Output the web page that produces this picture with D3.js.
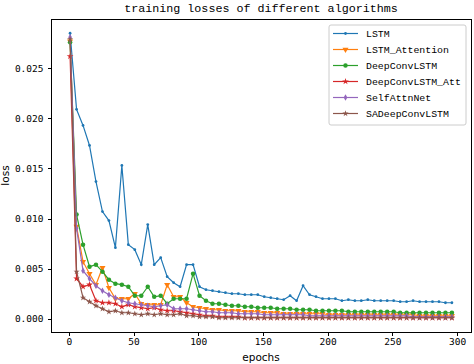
<!doctype html>
<html lang="en">
<head>
  <meta charset="utf-8">
  <title>training losses of different algorithms</title>
  <style>
body { margin: 0; background: #fff; }
.axis { font: 9.5px "DejaVu Sans Mono", monospace; }
.axis path, .axis line { fill: none; stroke: #000; shape-rendering: crispEdges; }
.series path.line { fill: none; stroke-width: 1.2; }
  </style>
</head>
<body>
  <script src="https://cdn.jsdelivr.net/npm/d3@7"></script>
  <script>
// epochs where each loss was logged
var epochs = [
  1, 6, 11, 16, 21, 26, 31, 36, 41, 46,
  51, 56, 61, 66, 71, 76, 81, 86, 91, 96,
  101, 106, 111, 116, 121, 126, 131, 136, 141, 146,
  151, 156, 161, 166, 171, 176, 181, 186, 191, 196,
  201, 206, 211, 216, 221, 226, 231, 236, 241, 246,
  251, 256, 261, 266, 271, 276, 281, 286, 291, 296
];

var names = ["LSTM", "LSTM_Attention", "DeepConvLSTM", "DeepConvLSTM_Att", "SelfAttnNet", "SADeepConvLSTM"];

var lstm = [
  0.0285, 0.0209, 0.0193, 0.0173, 0.0137, 0.0107, 0.0098, 0.0071, 0.0153, 0.0074,
  0.0069, 0.0054, 0.0094, 0.0054, 0.0061, 0.0042, 0.0036, 0.0032, 0.0054, 0.0054,
  0.0032, 0.0029, 0.0028, 0.0027, 0.0026, 0.0025, 0.0025, 0.0024, 0.0024, 0.0024,
  0.0022, 0.0021, 0.0020, 0.0019, 0.0023, 0.0018, 0.0033, 0.0024, 0.0022, 0.0020,
  0.0020, 0.0020, 0.0018, 0.0019, 0.0018, 0.0018, 0.0019, 0.0018, 0.0018, 0.0018,
  0.0018, 0.0017, 0.0017, 0.0018, 0.0017, 0.0017, 0.0017, 0.0017, 0.0016, 0.0016
];
var lstmAtt = [
  0.0277, 0.0092, 0.0057, 0.0045, 0.0034, 0.0051, 0.0031, 0.0020, 0.0020, 0.0020,
  0.0025, 0.0015, 0.0014, 0.0014, 0.0014, 0.0034, 0.0022, 0.0022, 0.0016, 0.0012,
  0.0011, 0.0010, 0.0009, 0.0009, 0.0008, 0.0008, 0.0008, 0.0007, 0.0007, 0.0007,
  0.0006, 0.0006, 0.0006, 0.0005, 0.0005, 0.0005, 0.0005, 0.0005, 0.0005, 0.0005,
  0.0004, 0.0004, 0.0004, 0.0004, 0.0004, 0.0004, 0.0004, 0.0004, 0.0004, 0.0004,
  0.0004, 0.0004, 0.0004, 0.0004, 0.0003, 0.0003, 0.0003, 0.0003, 0.0003, 0.0003
];
var deepConv = [
  0.0276, 0.0104, 0.0074, 0.0052, 0.0054, 0.0047, 0.0039, 0.0035, 0.0034, 0.0032,
  0.0023, 0.0023, 0.0032, 0.0022, 0.0023, 0.0015, 0.0020, 0.0020, 0.0020, 0.0045,
  0.0023, 0.0018, 0.0015, 0.0015, 0.0014, 0.0013, 0.0013, 0.0012, 0.0012, 0.0011,
  0.0011, 0.0011, 0.0010, 0.0010, 0.0010, 0.0009, 0.0009, 0.0009, 0.0008, 0.0008,
  0.0008, 0.0008, 0.0008, 0.0007, 0.0007, 0.0007, 0.0007, 0.0007, 0.0007, 0.0007,
  0.0007, 0.0006, 0.0006, 0.0006, 0.0006, 0.0006, 0.0006, 0.0006, 0.0006, 0.0006
];
var deepConvAtt = [
  0.0262, 0.0040, 0.0032, 0.0034, 0.0018, 0.0016, 0.0016, 0.0015, 0.0012, 0.0014,
  0.0012, 0.0011, 0.0010, 0.0011, 0.0009, 0.0008, 0.0008, 0.0007, 0.0006, 0.0005,
  0.0004, 0.0003, 0.0003, 0.0002, 0.0002, 0.0002, 0.0002, 0.0001, 0.0001, 0.0001,
  0.0001, 0.0001, 0.0001, 0.0001, 0.0001, 0.0001, 0.0001, 0.0001, 0.0001, 0.0001,
  0.0001, 0.0001, 0.0001, 0.0001, 0.0001, 0.0001, 0.0001, 0.0001, 0.0001, 0.0001,
  0.0001, 0.0001, 0.0001, 0.0001, 0.0001, 0.0001, 0.0001, 0.0001, 0.0001, 0.0001
];
var selfAttn = [
  0.0281, 0.0090, 0.0048, 0.0040, 0.0033, 0.0028, 0.0024, 0.0021, 0.0018, 0.0016,
  0.0015, 0.0014, 0.0013, 0.0012, 0.0013, 0.0014, 0.0010, 0.0010, 0.0010, 0.0009,
  0.0008, 0.0007, 0.0007, 0.0006, 0.0006, 0.0006, 0.0005, 0.0005, 0.0005, 0.0005,
  0.0004, 0.0004, 0.0004, 0.0004, 0.0004, 0.0004, 0.0004, 0.0003, 0.0003, 0.0003,
  0.0003, 0.0003, 0.0003, 0.0003, 0.0003, 0.0003, 0.0003, 0.0003, 0.0003, 0.0003,
  0.0003, 0.0003, 0.0003, 0.0002, 0.0002, 0.0002, 0.0002, 0.0002, 0.0002, 0.0002
];
var saDeepConv = [
  0.0279, 0.0047, 0.0021, 0.0017, 0.0013, 0.0010, 0.0007, 0.0008, 0.0006, 0.0006,
  0.0005, 0.0004, 0.0005, 0.0004, 0.0005, 0.0004, 0.0004, 0.0005, 0.0003, 0.0003,
  0.0002, 0.0002, 0.0002, 0.0001, 0.0001, 0.0001, 0.0001, 0.0001, 0.0001, 0.0001,
  0.0001, 0.0001, 0.0001, 0.0001, 0.0001, 0.0001, 0.0001, 0.0001, 0.0001, 0.0001,
  0.0001, 0.0001, 0.0001, 0.0001, 0.0001, 0.0001, 0.0001, 0.0001, 0.0001, 0.0001,
  0.0001, 0.0001, 0.0001, 0.0001, 0.0001, 0.0001, 0.0001, 0.0001, 0.0001, 0.0001
];

var xTicks = [0, 50, 100, 150, 200, 250, 300];
var yTicks = [0, 0.005, 0.010, 0.015, 0.020, 0.025];

var seriesValues = [lstm, lstmAtt, deepConv, deepConvAtt, selfAttn, saDeepConv];
var colors = ["#1f77b4", "#ff7f0e", "#2ca02c", "#d62728", "#9467bd", "#8c564b"];
var markers = [d3.symbolCircle, d3.symbolTriangle, d3.symbolCircle, d3.symbolStar, d3.symbolDiamond, d3.symbolStar];
var markerSize = [6, 16, 16, 14, 12, 12];
var markerRot = [0, 180, 0, 0, 0, 0];

var margin = {top: 19, right: 3, bottom: 32, left: 51},
    width = 474 - margin.left - margin.right,
    height = 364 - margin.top - margin.bottom;

var series = names.map(function(n, i) {
  return {name: n, color: colors[i], values: epochs.map(function(e, j) { return {x: e, y: seriesValues[i][j]}; })};
});

// matplotlib-like 5% padding around the data
var xExt = d3.extent(epochs),
    xPad = (xExt[1] - xExt[0]) * 0.05;
var allY = [].concat.apply([], seriesValues),
    yExt = d3.extent(allY),
    yPad = (yExt[1] - yExt[0]) * 0.05;

var x = d3.scaleLinear().domain([xExt[0] - xPad, xExt[1] + xPad]).range([0, width]);
var y = d3.scaleLinear().domain([yExt[0] - yPad, yExt[1] + yPad]).range([height, 0]);

var svg = d3.select("body").append("svg")
    .attr("width", 474)
    .attr("height", 364)
    .style("display", "block");

var g = svg.append("g")
    .attr("transform", "translate(" + margin.left + "," + margin.top + ")");

// title
svg.append("text")
    .attr("x", margin.left + width / 2)
    .attr("y", 12)
    .attr("text-anchor", "middle")
    .style("font", "11.7px 'Liberation Mono', monospace")
    .text("training losses of different algorithms");

g.append("g")
    .attr("class", "x axis")
    .attr("transform", "translate(0," + height + ")")
    .call(d3.axisBottom(x).tickValues(xTicks).tickSize(3.5).tickPadding(3).tickFormat(d3.format("d")))
    .call(function(s) { s.select(".domain").remove(); });

g.append("g")
    .attr("class", "y axis")
    .call(d3.axisLeft(y).tickValues(yTicks).tickSize(3.5).tickPadding(4).tickFormat(d3.format(".3f")))
    .call(function(s) { s.select(".domain").remove(); });

g.selectAll(".axis text").attr("fill", "#000");

// axis labels
svg.append("text")
    .attr("x", margin.left + width / 2)
    .attr("y", 361)
    .attr("text-anchor", "middle")
    .style("font", "10.5px 'DejaVu Sans', sans-serif")
    .text("epochs");

svg.append("text")
    .attr("transform", "translate(9," + (margin.top + height / 2) + ") rotate(-90)")
    .attr("text-anchor", "middle")
    .style("font", "10.5px 'DejaVu Sans', sans-serif")
    .text("loss");

var line = d3.line()
    .x(function(d) { return x(d.x); })
    .y(function(d) { return y(d.y); });

var sg = g.selectAll(".series")
    .data(series)
    .enter().append("g")
    .attr("class", "series");

sg.append("path")
    .attr("class", "line")
    .attr("stroke", function(d) { return d.color; })
    .attr("d", function(d) { return line(d.values); });

sg.each(function(d, i) {
  var sym = d3.symbol().type(markers[i]).size(markerSize[i]);
  d3.select(this).selectAll(".pt")
      .data(d.values)
      .enter().append("path")
      .attr("class", "pt")
      .attr("d", sym)
      .attr("fill", d.color)
      .attr("transform", function(p) { return "translate(" + x(p.x) + "," + y(p.y) + ") rotate(" + markerRot[i] + ")"; });
});

// frame
g.append("rect")
    .attr("width", width)
    .attr("height", height)
    .attr("fill", "none")
    .attr("stroke", "#000")
    .attr("stroke-width", 1)
    .attr("shape-rendering", "crispEdges");

// legend
var lg = g.append("g").attr("transform", "translate(278,6)");
lg.append("rect")
    .attr("width", 137)
    .attr("height", 100)
    .attr("rx", 2)
    .attr("fill", "#fff")
    .attr("fill-opacity", 0.8)
    .attr("stroke", "#ccc");

var li = lg.selectAll(".li")
    .data(series)
    .enter().append("g")
    .attr("class", "li")
    .attr("transform", function(d, i) { return "translate(0," + (8.5 + i * 16) + ")"; });

li.append("line")
    .attr("x1", 4).attr("x2", 29)
    .attr("stroke", function(d) { return d.color; })
    .attr("stroke-width", 1.2);

li.append("path")
    .attr("d", function(d, i) { return d3.symbol().type(markers[i]).size(markerSize[i])(); })
    .attr("fill", function(d) { return d.color; })
    .attr("transform", function(d, i) { return "translate(16.5,0) rotate(" + markerRot[i] + ")"; });

li.append("text")
    .attr("x", 37)
    .attr("dy", "0.35em")
    .style("font", "9.9px 'Liberation Mono', monospace")
    .text(function(d) { return d.name; });
  </script>
</body>
</html>
